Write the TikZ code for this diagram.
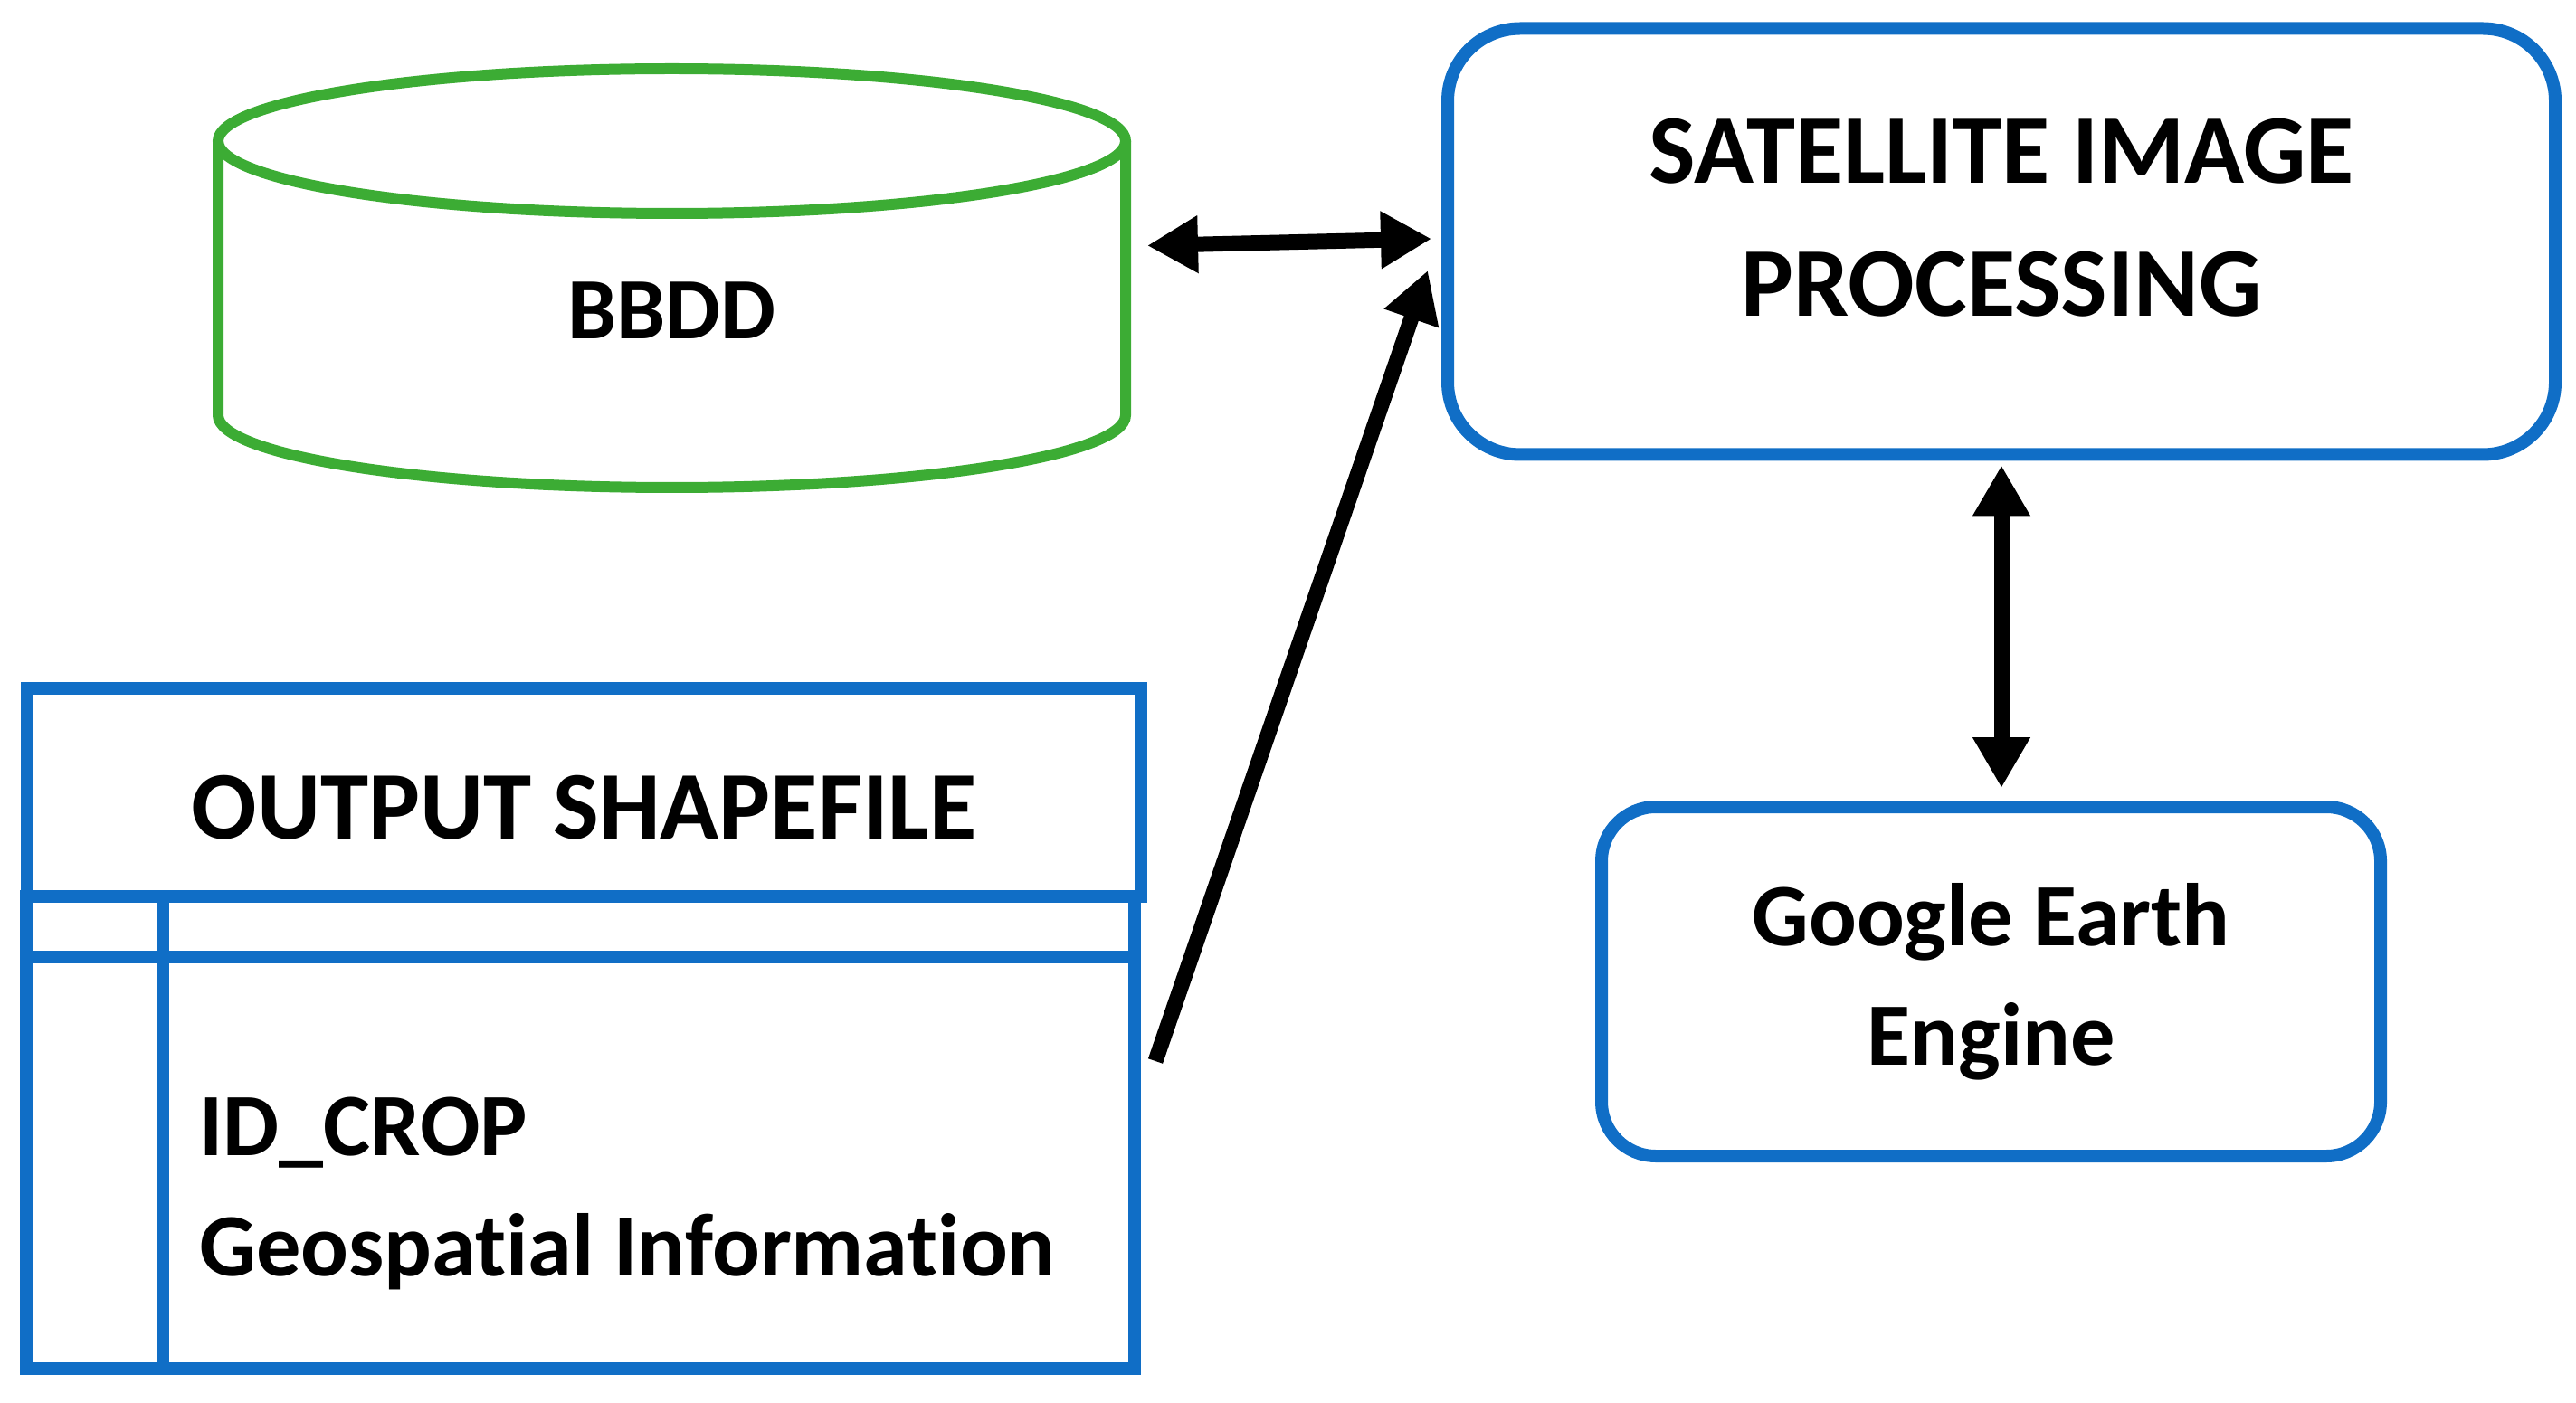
\documentclass[tikz,border=0pt]{standalone}
\usepackage{fontspec}
\setmainfont{Carlito}[Ligatures=CommonOff]
\usetikzlibrary{arrows.meta,positioning}

\definecolor{boxblue}{RGB}{16,110,198}
\definecolor{dbgreen}{RGB}{60,172,52}

\tikzset{
    blueline/.style={draw=boxblue, line width=0.14cm, inner sep=0pt, outer sep=0pt},
    roundbox/.style={blueline, rounded corners=0.7cm},
    dbline/.style={draw=dbgreen, line width=0.12cm},
    link/.style={line width=0.17cm, {Triangle[width=0.6cm,length=0.56cm]}-{Triangle[width=0.6cm,length=0.56cm]}},
    onelink/.style={line width=0.17cm, -{Triangle[width=0.6cm,length=0.56cm]}}
}

\begin{document}
\begin{tikzpicture}[font=\fontsize{28}{37.5}\selectfont\bfseries]
        \useasboundingbox (0,0) rectangle (28.47,-15.51);

        \def \rx {5.015}
        \def \ry {0.8}

        % database
        \draw[dbline] (2.41,-1.56) -- (2.41,-4.59)
            arc[start angle=180, end angle=360, x radius=\rx, y radius=\ry] -- (12.44,-1.56);
        \draw[dbline] (7.425,-1.56) ellipse[x radius=\rx, y radius=\ry];
        \node[minimum width=10.03cm, minimum height=4.63cm, inner sep=0pt, outer sep=0pt] (db) at (7.425,-3.075) {};
        \node[font=\fontsize{27.5}{33}\selectfont\bfseries] at (7.425,-3.43) {BBDD};

        % processing
        \node[roundbox, rounded corners=0.8cm, minimum width=12.24cm, minimum height=4.71cm] (sat) at (22.12,-2.67) {};
        \node[align=center, font=\fontsize{31}{40}\selectfont\bfseries] at ([yshift=0.265cm]sat.center) {SATELLITE IMAGE\\[2pt]PROCESSING};

        \node[roundbox, rounded corners=0.6cm, minimum width=8.61cm, minimum height=3.86cm, align=center] (gee) at (22.005,-10.85) {Google Earth\\Engine};

        % shapefile table
        \node[blueline, minimum width=12.31cm, minimum height=2.30cm] (hdr) at (6.455,-8.76) {};
        \node[font=\fontsize{30.5}{37}\selectfont\bfseries] at ([yshift=-0.17cm]hdr.center) {OUTPUT SHAPEFILE};
        \node[blueline, minimum width=12.25cm, minimum height=5.22cm] (tbl) at (6.415,-12.52) {};
        \draw[blueline] ([yshift=-0.67cm]tbl.north west) -- ([yshift=-0.67cm]tbl.north east);
        \draw[blueline] ([xshift=1.51cm]tbl.north west) -- ([xshift=1.51cm]tbl.south west);
        \node[anchor=base west] at (2.08,-12.77) {ID\_CROP};
        \node[anchor=base west] at (2.08,-14.10) {Geospatial Information};

        % links
        \draw[link] ([shift={(0.24,0.36)}]db.east) -- ([shift={(-0.18,0.03)}]sat.west);
        \draw[onelink] ([shift={(0.23,0.79)}]tbl.east) -- ([shift={(-0.22,-0.32)}]sat.west);
        \draw[link, shorten <=0.12cm, shorten >=0.21cm] (sat.south) -- (sat.south |- gee.north);
    \end{tikzpicture}
\end{document}
